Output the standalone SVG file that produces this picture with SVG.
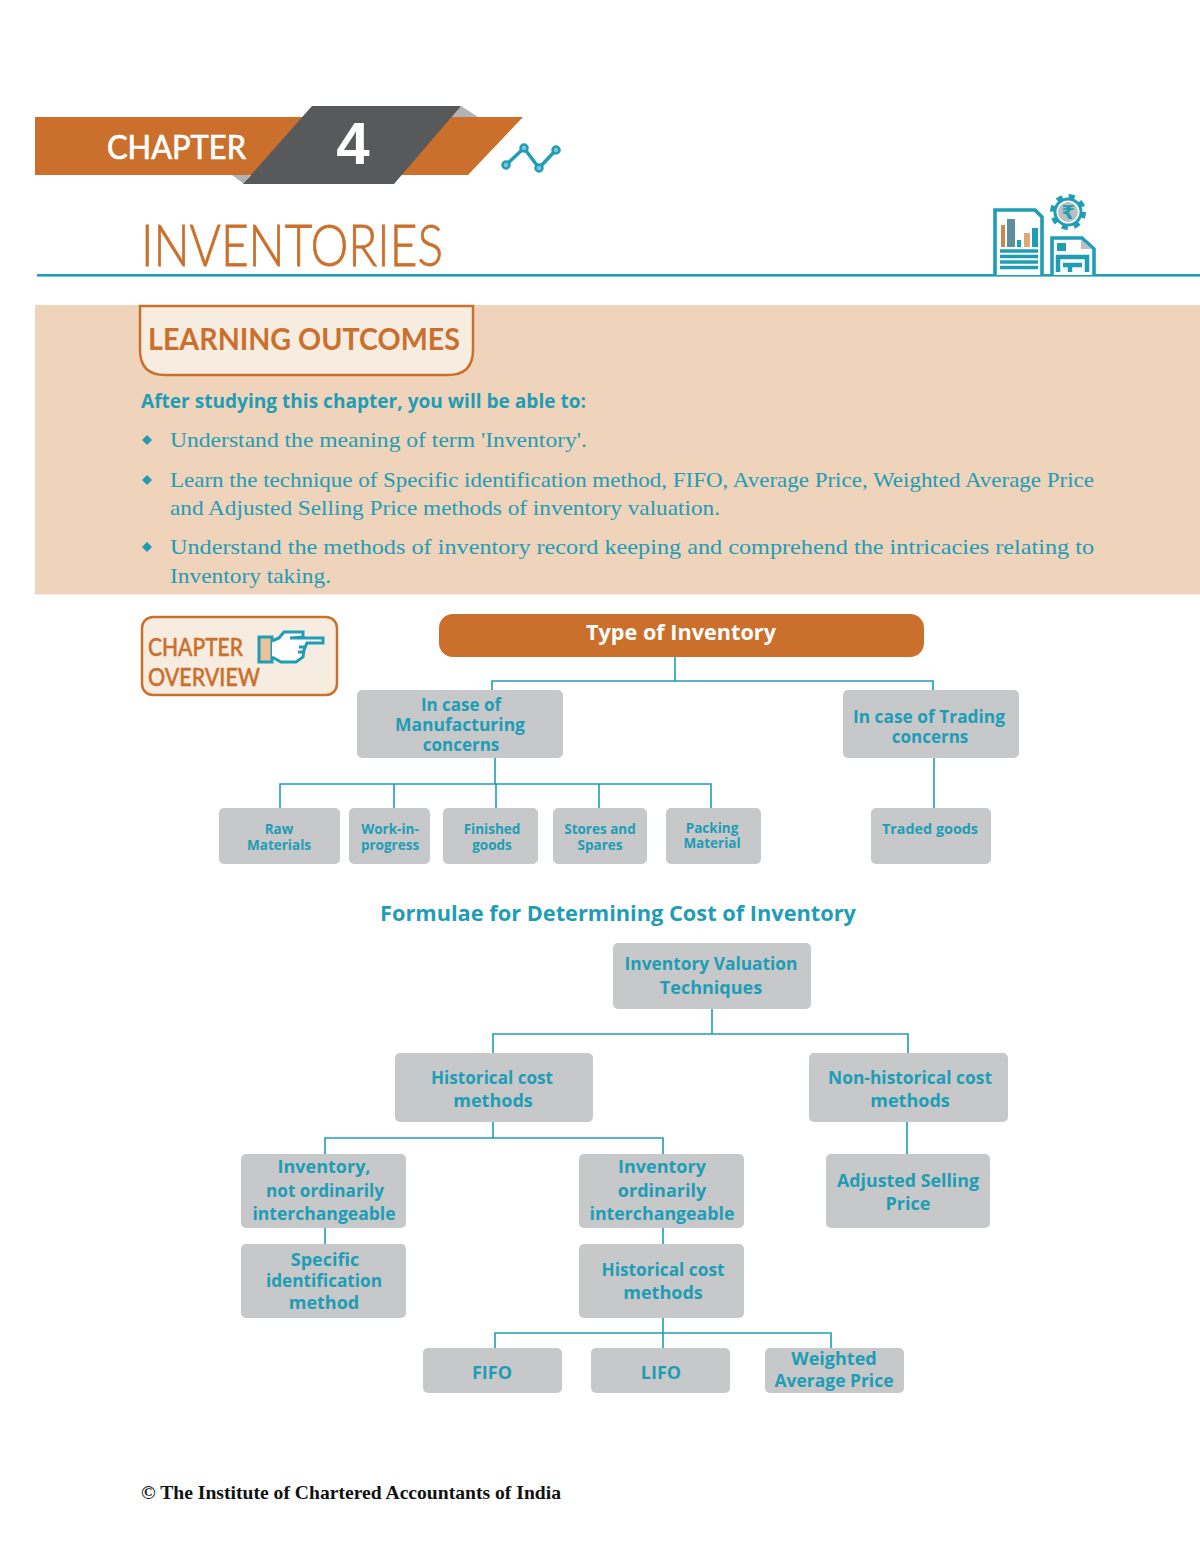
<svg xmlns="http://www.w3.org/2000/svg" width="1200" height="1553" viewBox="0 0 1200 1553">
<style>
text{font-family:"Open Sans","Noto Sans","Liberation Sans",sans-serif}
.n{fill:#c6c8ca}
.t{fill:#1f9db5;font-weight:700;text-anchor:middle}
.s13{font-size:13.5px}.s17{font-size:17px}.s18{font-size:18px}
.c{fill:none;stroke:#1f9db5;stroke-width:1.6}
.b{font-family:"Liberation Serif",serif;font-size:22px;fill:#1f9db5}
.d{fill:#1f9db5}
.o{fill:#cb702c}
.g{font-family:Lato,"Liberation Sans",sans-serif;fill:#cb702c}
.i{fill:#fff;stroke:#1f9db5;stroke-width:3.600}
</style>
<rect width="1200" height="1553" fill="#fff"/>

<g id="chapter-banner">
<polygon class="o" points="35,117 523,117 468,175 35,175"/>
<polygon points="232,175 250,175 244,184" fill="#b3b3b3"/>
<polygon points="448,117 461,106 478,117" fill="#b3b3b3"/>
<polygon points="312,106 461,106 394,184 243,184" fill="#58595b"/>
<text x="107" y="159" font-size="33" font-weight="400" fill="#fff" stroke="#fff" stroke-width="0.700" textLength="139" lengthAdjust="spacingAndGlyphs" style="font-family:Lato,'Liberation Sans',sans-serif">CHAPTER</text>
<text x="353" y="164" font-size="60" font-weight="700" fill="#fff" text-anchor="middle" style="font-family:'Liberation Sans',sans-serif">4</text>
</g>

<g id="sparkline" fill="#7fc4d2" stroke="#1f9db5">
<polyline points="506,165 524,148 539,168 556,150" fill="none" stroke-width="3.500"/>
<circle cx="506" cy="165" r="3.500" stroke-width="2.500"/>
<circle cx="524" cy="148" r="3.500" stroke-width="2.500"/>
<circle cx="539" cy="168" r="3.500" stroke-width="2.500"/>
<circle cx="556" cy="150" r="3.500" stroke-width="2.500"/>
</g>

<g id="title">
<text class="g" x="141" y="266" font-size="58" font-weight="300" stroke="#cb702c" stroke-width="0.800" textLength="302" lengthAdjust="spacingAndGlyphs">INVENTORIES</text>
<rect x="37" y="274" width="1163" height="2.600" fill="#1f9db5"/>
</g>

<g id="title-icons">
<path class="i" d="M995,275V210H1035L1042,217V275"/>
<rect x="1001" y="225" width="4" height="22" fill="#c68a4a"/>
<rect x="1007" y="219" width="8" height="28" fill="#5f8f9f"/>
<rect x="1017" y="240" width="4" height="7" fill="#1f9db5"/>
<rect x="1024" y="233" width="6" height="14" fill="#e0a872"/>
<rect x="1032" y="228" width="6" height="19" fill="#1f9db5"/>
<path d="M1000,251H1038M1000,256.500H1038M1000,262H1038M1000,267.500H1038" stroke="#1f9db5" stroke-width="3.500" fill="none"/>
<circle cx="1068" cy="212" r="15.500" fill="none" stroke="#1f9db5" stroke-width="5" stroke-dasharray="6 6.200"/>
<circle cx="1068" cy="212" r="13" fill="#fff" stroke="#1f9db5" stroke-width="3"/>
<circle cx="1068" cy="212" r="10" fill="#bcbec0"/>
<text x="1068" y="219" font-size="19" font-weight="700" fill="#1f9db5" text-anchor="middle" style="font-family:'DejaVu Sans',sans-serif">₹</text>
<path class="i" d="M1052,275V238H1082L1094,249V275"/>
<polygon points="1081,240 1092,249 1081,249" fill="#bcbec0"/>
<rect x="1057" y="243" width="9" height="8" fill="#1f9db5"/>
<path d="M1058,272V257H1087V272M1063,265H1082M1070,265V272" fill="none" stroke="#1f9db5" stroke-width="4.500"/>
</g>

<g id="learning-outcomes">
<rect x="35" y="305" width="1165" height="289.500" fill="#efd3bb"/>
<path d="M140,306H473V350Q473,375 448,375H165Q140,375 140,350Z" fill="#f6ece0" stroke="#cb702c" stroke-width="2.500"/>
<text class="g" x="148" y="350" font-size="30" font-weight="700" textLength="312" lengthAdjust="spacingAndGlyphs">LEARNING OUTCOMES</text>
<text x="141" y="408" font-size="19" font-weight="700" fill="#1f9db5" textLength="445" lengthAdjust="spacingAndGlyphs">After studying this chapter, you will be able to:</text>
<polygon class="d" points="147,435 152,440 147,445 142,440"/>
<text class="b" x="170" y="447" textLength="417" lengthAdjust="spacingAndGlyphs">Understand the meaning of term 'Inventory'.</text>
<polygon class="d" points="147,475 152,480 147,485 142,480"/>
<text class="b" x="170" y="487" textLength="924" lengthAdjust="spacingAndGlyphs">Learn the technique of Specific identification method, FIFO, Average Price, Weighted Average Price</text>
<text class="b" x="170" y="515" textLength="550" lengthAdjust="spacingAndGlyphs">and Adjusted Selling Price methods of inventory valuation.</text>
<polygon class="d" points="147,542 152,547 147,552 142,547"/>
<text class="b" x="170" y="554" textLength="924" lengthAdjust="spacingAndGlyphs">Understand the methods of inventory record keeping and comprehend the intricacies relating to</text>
<text class="b" x="170" y="583" textLength="161" lengthAdjust="spacingAndGlyphs">Inventory taking.</text>
</g>

<g id="chapter-overview">
<rect x="142" y="617" width="195" height="78" rx="11" fill="#f6ece0" stroke="#cb702c" stroke-width="2.500"/>
<text class="g" x="148" y="656" font-size="25" font-weight="500" stroke="#cb702c" stroke-width="0.500" textLength="95" lengthAdjust="spacingAndGlyphs">CHAPTER</text>
<text class="g" x="148" y="686" font-size="25" font-weight="500" stroke="#cb702c" stroke-width="0.500" textLength="112" lengthAdjust="spacingAndGlyphs">OVERVIEW</text>
<rect x="259" y="637" width="13" height="25" fill="#e9c39d" stroke="#1f9db5" stroke-width="3"/>
<path d="M272,641L279,638L284,632H303V637L290,638H323V643H307L304,650L303,657L296,662H281L272,657M299,647H306M298,652H304" fill="#fff" stroke="#1f9db5" stroke-width="3"/>
</g>

<g id="connectors" class="c">
<path d="M675,657V681M492,698V681H933V690"/>
<path d="M495,758V784M280,808V784H711V808M394,784V808M496,784V808M599,784V808"/>
<path d="M934,758V808"/>
<path d="M712,1009V1034M493,1053V1034H908V1053"/>
<path d="M493,1122V1138M325,1154V1138H663V1154"/>
<path d="M907,1122V1154"/>
<path d="M325,1228V1244M663,1228V1244"/>
<path d="M663,1318V1348M495,1348V1333H831V1348"/>
</g>

<g id="type-of-inventory">
<rect x="439" y="614" width="485" height="43" rx="14" fill="#cb702c"/>
<text x="681" y="640" font-size="21" font-weight="700" fill="#fff" text-anchor="middle" textLength="190" lengthAdjust="spacingAndGlyphs">Type of Inventory</text>
</g>

<g id="manufacturing">
<rect class="n" x="357" y="690" width="206" height="68" rx="5"/>
<text class="t s17" x="461" y="711">In case of</text>
<text class="t s17" x="460" y="731" textLength="130" lengthAdjust="spacingAndGlyphs">Manufacturing</text>
<text class="t s17" x="461" y="751">concerns</text>
</g>
<g id="trading">
<rect class="n" x="843" y="690" width="176" height="68" rx="5"/>
<text class="t s17" x="929" y="723" textLength="152" lengthAdjust="spacingAndGlyphs">In case of Trading</text>
<text class="t s17" x="930" y="743">concerns</text>
</g>
<g id="raw-materials">
<rect class="n" x="219" y="808" width="121" height="56" rx="5"/>
<text class="t s13" x="279" y="834">Raw</text>
<text class="t s13" x="279" y="850">Materials</text>
</g>
<g id="work-in-progress">
<rect class="n" x="349" y="808" width="81" height="56" rx="5"/>
<text class="t s13" x="390" y="834">Work-in-</text>
<text class="t s13" x="390" y="850">progress</text>
</g>
<g id="finished-goods">
<rect class="n" x="443" y="808" width="95" height="56" rx="5"/>
<text class="t s13" x="492" y="834">Finished</text>
<text class="t s13" x="492" y="850">goods</text>
</g>
<g id="stores-spares">
<rect class="n" x="553" y="808" width="94" height="56" rx="5"/>
<text class="t s13" x="600" y="834">Stores and</text>
<text class="t s13" x="600" y="850">Spares</text>
</g>
<g id="packing-material">
<rect class="n" x="666" y="808" width="95" height="56" rx="5"/>
<text class="t s13" x="712" y="833">Packing</text>
<text class="t s13" x="712" y="848">Material</text>
</g>
<g id="traded-goods">
<rect class="n" x="871" y="808" width="120" height="56" rx="5"/>
<text class="t s13" x="930" y="834" textLength="96" lengthAdjust="spacingAndGlyphs">Traded goods</text>
</g>

<text x="618" y="921" font-size="22" font-weight="700" fill="#1f9db5" text-anchor="middle" textLength="476" lengthAdjust="spacingAndGlyphs">Formulae for Determining Cost of Inventory</text>

<g id="valuation-techniques">
<rect class="n" x="613" y="943" width="198" height="66" rx="5"/>
<text class="t s18" x="711" y="970" textLength="173" lengthAdjust="spacingAndGlyphs">Inventory Valuation</text>
<text class="t s18" x="711" y="994">Techniques</text>
</g>
<g id="historical">
<rect class="n" x="395" y="1053" width="198" height="69" rx="5"/>
<text class="t s18" x="492" y="1084" textLength="122" lengthAdjust="spacingAndGlyphs">Historical cost</text>
<text class="t s18" x="493" y="1107">methods</text>
</g>
<g id="non-historical">
<rect class="n" x="809" y="1053" width="199" height="69" rx="5"/>
<text class="t s18" x="910" y="1084" textLength="164" lengthAdjust="spacingAndGlyphs">Non-historical cost</text>
<text class="t s18" x="910" y="1107">methods</text>
</g>
<g id="not-interchangeable">
<rect class="n" x="241" y="1154" width="165" height="74" rx="5"/>
<text class="t s18" x="324" y="1173">Inventory,</text>
<text class="t s18" x="325" y="1197" textLength="118" lengthAdjust="spacingAndGlyphs">not ordinarily</text>
<text class="t s18" x="324" y="1220" textLength="143" lengthAdjust="spacingAndGlyphs">interchangeable</text>
</g>
<g id="interchangeable">
<rect class="n" x="579" y="1154" width="165" height="74" rx="5"/>
<text class="t s18" x="662" y="1173">Inventory</text>
<text class="t s18" x="662" y="1197">ordinarily</text>
<text class="t s18" x="662" y="1220" textLength="145" lengthAdjust="spacingAndGlyphs">interchangeable</text>
</g>
<g id="adjusted-selling-price">
<rect class="n" x="826" y="1154" width="164" height="74" rx="5"/>
<text class="t s18" x="908" y="1187" textLength="142" lengthAdjust="spacingAndGlyphs">Adjusted Selling</text>
<text class="t s18" x="908" y="1210">Price</text>
</g>
<g id="specific-identification">
<rect class="n" x="241" y="1244" width="165" height="74" rx="5"/>
<text class="t s18" x="325" y="1266">Specific</text>
<text class="t s18" x="324" y="1287" textLength="116" lengthAdjust="spacingAndGlyphs">identification</text>
<text class="t s18" x="324" y="1309">method</text>
</g>
<g id="historical-2">
<rect class="n" x="579" y="1244" width="165" height="74" rx="5"/>
<text class="t s18" x="663" y="1276" textLength="123" lengthAdjust="spacingAndGlyphs">Historical cost</text>
<text class="t s18" x="663" y="1299">methods</text>
</g>
<g id="fifo">
<rect class="n" x="423" y="1348" width="139" height="45" rx="5"/>
<text class="t s18" x="492" y="1379">FIFO</text>
</g>
<g id="lifo">
<rect class="n" x="591" y="1348" width="139" height="45" rx="5"/>
<text class="t s18" x="661" y="1379">LIFO</text>
</g>
<g id="weighted-average-price">
<rect class="n" x="765" y="1348" width="139" height="45" rx="5"/>
<text class="t s18" x="834" y="1365">Weighted</text>
<text class="t s18" x="834" y="1387" textLength="119" lengthAdjust="spacingAndGlyphs">Average Price</text>
</g>

<text x="141" y="1499" font-size="19" font-weight="700" fill="#111" textLength="420" lengthAdjust="spacingAndGlyphs" style="font-family:'Liberation Serif',serif">© The Institute of Chartered Accountants of India</text>
</svg>
